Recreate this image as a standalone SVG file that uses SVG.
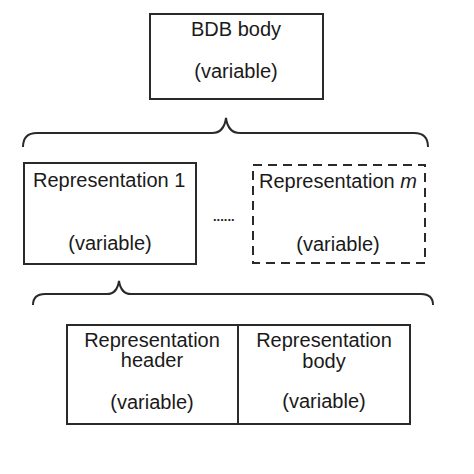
<svg xmlns="http://www.w3.org/2000/svg" width="474" height="474" viewBox="0 0 474 474">
<style>
.box{fill:#fff;stroke:#2a2a2a;stroke-width:2}
.dash{fill:#fff;stroke:#2a2a2a;stroke-width:2;stroke-dasharray:9,6}
.brace{fill:none;stroke:#2a2a2a;stroke-width:2}
text{font-family:"Liberation Sans",Arial,sans-serif;font-size:20px;fill:#1a1a1a}
.c{text-anchor:middle}
</style>
<rect width="474" height="474" fill="#fff"/>
<g id="bdb-body">
<rect class="box" x="150" y="14" width="173" height="85"/>
<text class="c" x="236" y="36">BDB body</text>
<text class="c" x="236" y="78">(variable)</text>
</g>
<g id="connectors">
<path class="brace" d="M23,147 Q23,133 37,133 L212,133 Q224,133 226,118 Q228,133 240,133 L414,133 Q428,133 428,147"/>
<path class="brace" d="M33,305 Q33,294 45,294 L107,294 Q117,294 119,281 Q121,294 131,294 L421,294 Q433,294 433,305"/>
</g>
<g id="representation-1">
<rect class="box" x="24" y="163" width="172" height="101"/>
<text x="33" y="187">Representation 1</text>
<text class="c" x="110" y="250">(variable)</text>
</g>
<g id="ellipsis">
<text x="213" y="221" style="font-size:13px;font-weight:bold">......</text>
</g>
<g id="representation-m">
<rect class="dash" x="253" y="165" width="172" height="98"/>
<text x="259" y="188">Representation <tspan font-style="italic">m</tspan></text>
<text class="c" x="338" y="251">(variable)</text>
</g>
<g id="representation-header">
<rect class="box" x="67" y="325" width="171" height="99"/>
<text class="c" x="152" y="347">Representation</text>
<text class="c" x="152" y="367">header</text>
<text class="c" x="152" y="409">(variable)</text>
</g>
<g id="representation-body">
<rect class="box" x="238" y="325" width="172" height="99"/>
<text class="c" x="324" y="347">Representation</text>
<text class="c" x="324" y="368">body</text>
<text class="c" x="324" y="408">(variable)</text>
</g>
</svg>
